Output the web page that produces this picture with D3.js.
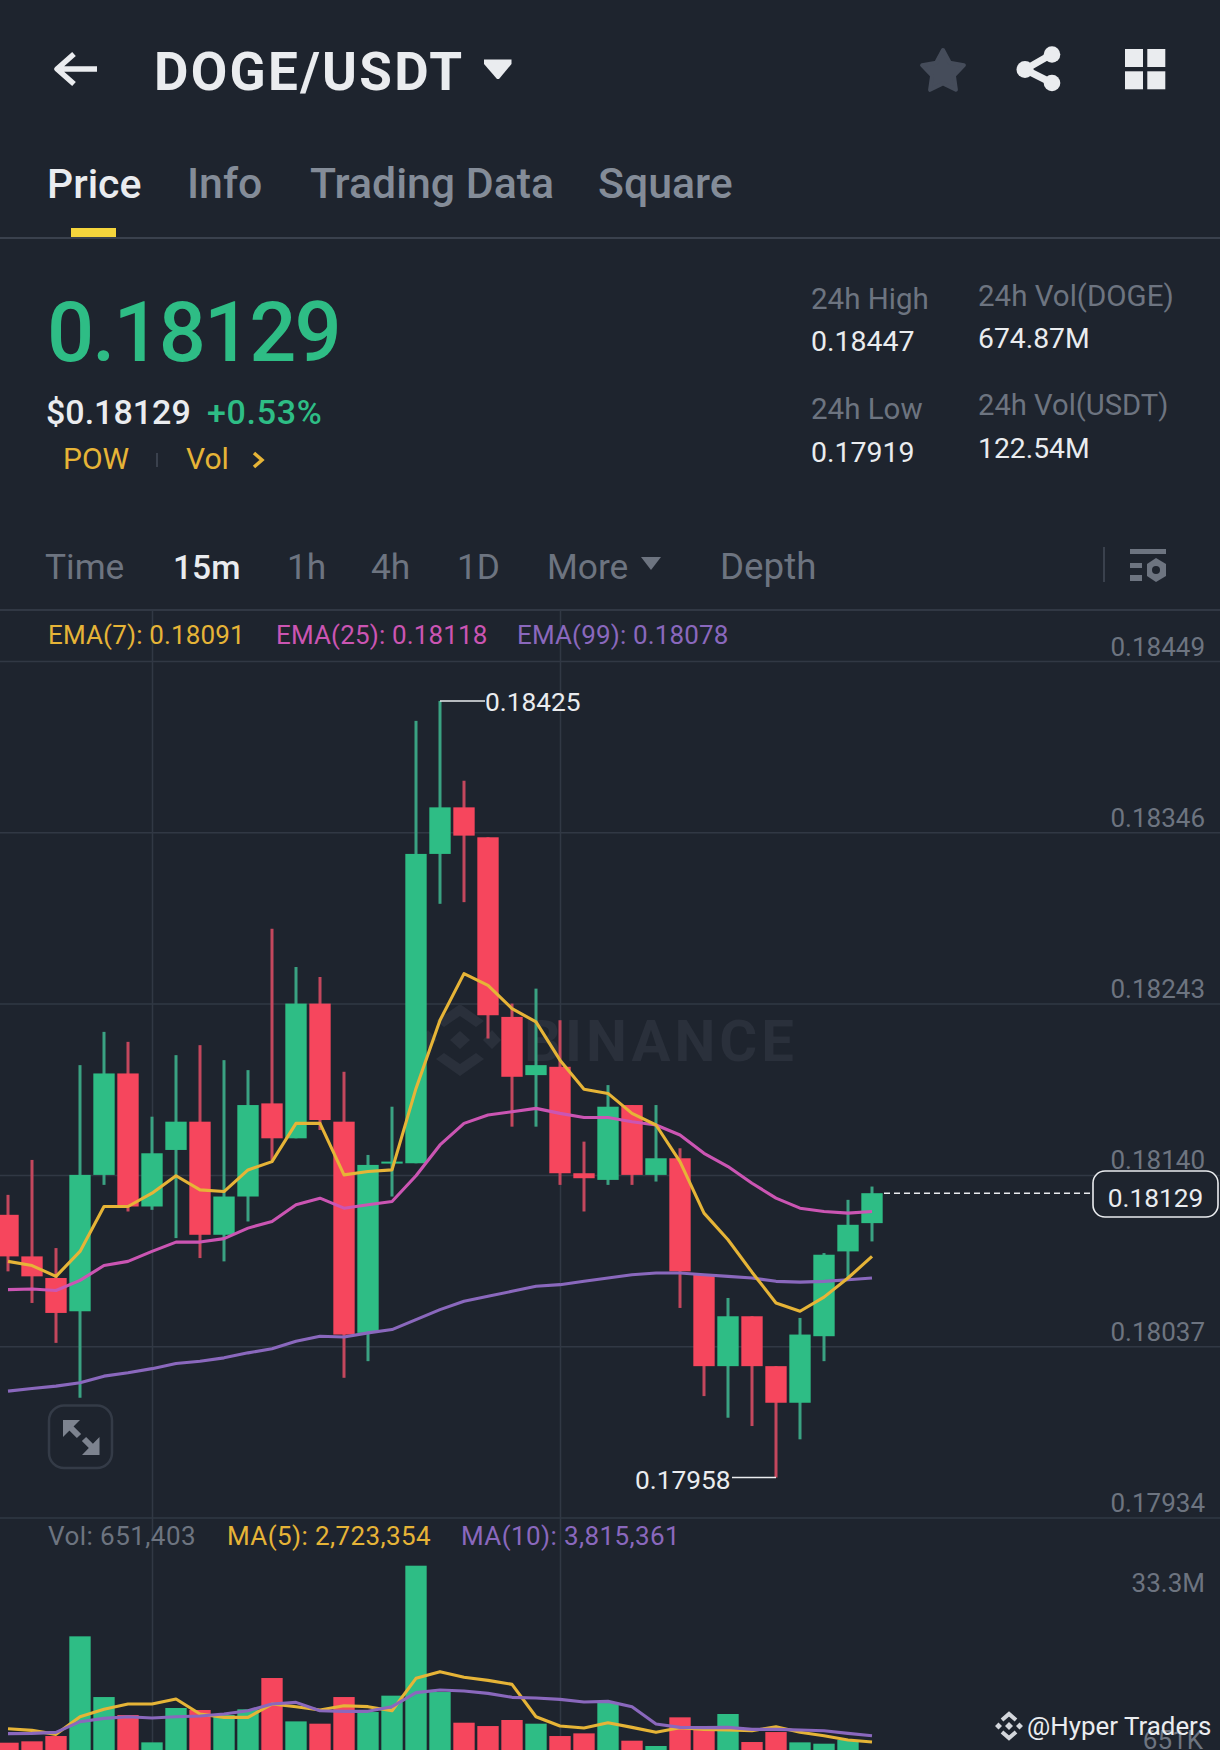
<!DOCTYPE html>
<html><head><meta charset="utf-8">
<script src="https://cdn.jsdelivr.net/npm/d3@7"></script>
<style>
html,body{margin:0;padding:0;background:#1e242e;}
svg{display:block;}
text{font-family:Roboto,"Noto Sans",sans-serif;}
</style></head><body><svg id="c" width="1220" height="1750"></svg>
<script>
const opens =[0.18116,0.18091,0.18078,0.18058,0.18140,0.18201,0.18121,0.18155,0.18172,0.18104,0.18127,0.18183,0.18162,0.18243,0.18172,0.18045,0.18147,0.18147,0.18333,0.18361,0.18343,0.18235,0.18200,0.18205,0.18141,0.18137,0.18182,0.18140,0.18150,0.18080,0.18025,0.18055,0.18025,0.18003,0.18043,0.18094,0.18111];
const closes=[0.18091,0.18079,0.18057,0.18140,0.18201,0.18121,0.18153,0.18172,0.18104,0.18127,0.18182,0.18162,0.18243,0.18173,0.18044,0.18146,0.18148,0.18333,0.18361,0.18344,0.18236,0.18199,0.18206,0.18141,0.18138,0.18181,0.18140,0.18150,0.18082,0.18025,0.18055,0.18025,0.18003,0.18044,0.18092,0.18110,0.18129];
const highs =[0.18128,0.18149,0.18096,0.18206,0.18226,0.18220,0.18175,0.18212,0.18218,0.18209,0.18203,0.18288,0.18265,0.18259,0.18202,0.18152,0.18181,0.18413,0.18425,0.18377,0.18343,0.18243,0.18252,0.18233,0.18160,0.18194,0.18182,0.18182,0.18156,0.18080,0.18066,0.18055,0.18025,0.18054,0.18093,0.18125,0.18133];
const lows  =[0.18082,0.18063,0.18039,0.18006,0.18134,0.18118,0.18119,0.18102,0.18090,0.18088,0.18112,0.18149,0.18162,0.18167,0.18018,0.18028,0.18127,0.18147,0.18303,0.18304,0.18222,0.18169,0.18169,0.18134,0.18118,0.18134,0.18134,0.18136,0.18060,0.18007,0.17994,0.17989,0.17958,0.17981,0.18028,0.18077,0.18100];
const ema7  =[0.18088,0.180855,0.18079,0.18094,0.18121,0.18121,0.18129,0.181395,0.18131,0.18130,0.18143,0.18148,0.18171,0.18171,0.18140,0.18142,0.18143,0.18192,0.18233,0.18261,0.18254,0.18240,0.18232,0.18209,0.181915,0.18189,0.18177,0.18170,0.18148,0.18117,0.18101,0.180815,0.18063,0.18058,0.180665,0.18078,0.18091];
const ema25 =[0.18071,0.180714,0.180705,0.180766,0.180855,0.18088,0.18094,0.180996,0.180996,0.181017,0.18108,0.18112,0.18122,0.18126,0.18120,0.18122,0.18124,0.181395,0.18158,0.18171,0.18176,0.18178,0.18180,0.18177,0.181745,0.181745,0.18172,0.18170,0.18164,0.18153,0.18145,0.18135,0.18126,0.18120,0.18118,0.18117,0.18118];
const ema99 =[0.18010,0.180116,0.18013,0.18015,0.18019,0.18021,0.180235,0.180266,0.18028,0.18030,0.18033,0.180355,0.18040,0.18043,0.180425,0.18045,0.18047,0.18053,0.18059,0.18064,0.18067,0.18070,0.18073,0.18074,0.18076,0.18078,0.18080,0.18081,0.18081,0.18080,0.18079,0.18078,0.18076,0.180755,0.18076,0.18077,0.18078];
const volumes=[2.60,2.84,3.76,21.05,10.52,7.40,2.66,8.62,8.27,7.40,8.39,13.82,6.30,5.90,10.52,7.92,10.76,33.30,11.39,6.07,5.49,6.54,5.90,3.76,4.22,9.54,2.95,2.03,7.00,4.92,7.58,2.72,4.45,2.66,2.43,3.07,0.651403];
const ma5   =[5.03,4.74,4.05,7.11,8.39,9.31,9.31,10.18,7.58,7.00,7.00,9.31,8.85,8.27,9.02,8.85,8.15,13.76,14.92,13.94,13.41,12.72,7.11,5.49,5.15,6.07,5.26,4.40,5.21,4.92,4.80,4.68,5.38,4.40,3.82,3.07,2.723354];
const ma10  =[4.17,4.22,4.40,6.25,6.82,7.11,6.88,7.11,7.23,7.58,8.15,9.31,9.60,8.15,8.04,8.04,8.85,11.28,11.74,11.56,11.16,10.47,10.35,10.12,9.66,9.77,8.85,5.84,5.26,5.21,5.26,4.92,4.92,4.80,4.68,4.22,3.815361];
const priceTicks=[0.18449,0.18346,0.18243,0.18140,0.18037,0.17934];
const tabs=["Price","Info","Trading Data","Square"];
const intervals=["Time","15m","1h","4h","1D","More","Depth"];
const COL={bg:"#1e242e",grid:"#313844",muted:"#6d7480",tab:"#848c98",white:"#eaecef",green:"#2ebd85",red:"#f6465d",gw:"#3aa282",rw:"#c4475d",yellow:"#e6b437",magenta:"#cb55b3",purple:"#8a68bd"};

const svg=d3.select("#c");
svg.append("rect").attr("width",1220).attr("height",1750).attr("fill",COL.bg);
const idx=d3.range(opens.length);
const x=d3.scaleBand().domain(idx).range([-4,884]).paddingInner(0.11).paddingOuter(0.055);
const cx=i=>x(i)+x.bandwidth()/2;
const y=d3.scaleLinear().domain([0.17934,0.18449]).range([1517.5,661]);
const yV=d3.scaleLinear().domain([0,33.3]).range([1757.7,1565.7]);
function T(s,px,py,size,fill,o={}){
  return svg.append("text").attr("x",px).attr("y",py).attr("font-size",size).attr("fill",fill)
   .attr("font-weight",o.w||400).attr("text-anchor",o.a||"start").attr("letter-spacing",o.ls||0).attr("font-family",o.f||null).text(s);
}
// ---- header
svg.append("path").attr("d","M97 69H57M74 54L57 69L74 84").attr("fill","none").attr("stroke",COL.white).attr("stroke-width",5.5).attr("stroke-linejoin","round");
T("DOGE/USDT",154,90,53,COL.white,{w:700,ls:2.3});
svg.append("path").attr("d","M484 59.5H511.5V64L499 79H497L484 64Z").attr("fill",COL.white);
svg.append("path").attr("d",d3.range(10).map(k=>{const r=k%2?11.5:22,a=-Math.PI/2+k*Math.PI/5;return (k?"L":"M")+(943+r*Math.cos(a)).toFixed(1)+" "+(72+r*Math.sin(a)).toFixed(1)}).join("")+"Z").attr("fill","#454c5a").attr("stroke","#454c5a").attr("stroke-width",4).attr("stroke-linejoin","round");
svg.append("path").attr("d","M1052 54L1025 69.5L1052 83").attr("fill","none").attr("stroke",COL.white).attr("stroke-width",7);
[[1052,54.5,8.3],[1025,69.5,8.5],[1052,83,8.3]].forEach(c=>svg.append("circle").attr("cx",c[0]).attr("cy",c[1]).attr("r",c[2]).attr("fill",COL.white));
[[1125,49],[1147.3,49],[1125,71.3],[1147.3,71.3]].forEach(c=>svg.append("rect").attr("x",c[0]).attr("y",c[1]).attr("width",18).attr("height",18).attr("fill",COL.white));
// tabs
const tabX=[47,187,310,598];
tabs.forEach((t,i)=>T(t,tabX[i],198,i?42.8:41,i?COL.tab:COL.white,{w:500}));
svg.append("rect").attr("x",71).attr("y",228).attr("width",45).attr("height",9).attr("fill","#f5d53c");
svg.append("line").attr("x1",0).attr("x2",1220).attr("y1",238).attr("y2",238).attr("stroke","#3a414d").attr("stroke-width",2);
// price block
T("0.18129",47,361,83,COL.green,{w:500,ls:-1.9});
T("$0.18129",46,424,34,COL.white,{w:500});
T("+0.53%",207,424,34,COL.green,{w:500,ls:0.7});
T("POW",63,469,30,COL.yellow);
svg.append("line").attr("x1",157).attr("x2",157).attr("y1",453).attr("y2",467).attr("stroke","#3a414d").attr("stroke-width",2);
T("Vol",186,469,30,COL.yellow);
svg.append("path").attr("d","M254 453L262 460L254 467").attr("fill","none").attr("stroke",COL.yellow).attr("stroke-width",3.5);
T("24h High",811,309,29.5,COL.muted);T("0.18447",811,351,28.5,COL.white);
T("24h Low",811,419,29.5,COL.muted);T("0.17919",811,462,28.5,COL.white);
T("24h Vol(DOGE)",978,306,29.5,COL.muted);T("674.87M",978,348,28.3,COL.white);
T("24h Vol(USDT)",978,415,29.2,COL.muted);T("122.54M",978,458,28.3,COL.white);
// intervals
const intX=[45,173,287,371,457,547,720];
intervals.forEach((t,i)=>T(t,intX[i],579,i===1?33.6:(i===6?36.7:35.3),i===1?COL.white:COL.muted,{w:i===1?500:400}));
svg.append("path").attr("d","M641 557H661L651 570Z").attr("fill",COL.muted);
svg.append("line").attr("x1",1104).attr("x2",1104).attr("y1",547).attr("y2",582).attr("stroke","#3a414d").attr("stroke-width",2);
svg.append("path").attr("d","M1130 549H1166V554H1130ZM1130 563H1142V568H1130ZM1130 575H1142V581H1130Z").attr("fill",COL.muted);
svg.append("path").attr("d","M1156 558L1166 564V576L1156 582L1147 576V564Z").attr("fill",COL.muted);
svg.append("circle").attr("cx",1156).attr("cy",570).attr("r",4).attr("fill",COL.bg);
svg.append("line").attr("x1",0).attr("x2",1220).attr("y1",610).attr("y2",610).attr("stroke",COL.grid).attr("stroke-width",2);
// vertical grid
[152.5,560.5].forEach(v=>svg.append("line").attr("x1",v).attr("x2",v).attr("y1",610).attr("y2",1750).attr("stroke",COL.grid).attr("stroke-width",1.5));
// price axis
const gAxis=svg.append("g").attr("transform","translate(1220,0)").call(d3.axisLeft(y).tickValues(priceTicks).tickSize(1220).tickFormat(d3.format(".5f")));
gAxis.select(".domain").remove();
gAxis.selectAll("line").attr("stroke",COL.grid).attr("stroke-width",1.5);
gAxis.selectAll("text").attr("x",-15).attr("dy",0).attr("y",-6).attr("text-anchor","end").attr("font-size",26).attr("fill",COL.muted).attr("font-family","Roboto,sans-serif");
// legends
T("EMA(7): 0.18091",48,644,26,COL.yellow,{ls:0.15});
T("EMA(25): 0.18118",276,644,26,COL.magenta,{ls:0.15});
T("EMA(99): 0.18078",517,644,26,COL.purple,{ls:0.15});
T("Vol: 651,403",48,1545,26,COL.muted,{ls:0.45});
T("MA(5): 2,723,354",227,1545,26,COL.yellow,{ls:0.4});
T("MA(10): 3,815,361",461,1545,26,COL.purple,{ls:0.4});
T("33.3M",1205,1592,26,COL.muted,{a:"end"});
// watermark
const wm=svg.append("g").attr("fill","#2a303b");
wm.append("path").attr("d","M460 1004L484 1021L476 1027L460 1016L444 1027L436 1021ZM460 1031L470 1040L460 1049L450 1040ZM428 1030L437 1040L428 1049L419 1040ZM492 1030L501 1040L492 1049L483 1040ZM436 1059L444 1053L460 1064L476 1053L484 1059L460 1076Z");
wm.append("text").attr("x",524).attr("y",1061).attr("font-size",58).attr("font-weight",700).attr("letter-spacing",4).text("BINANCE");
// full-screen button
svg.append("rect").attr("x",49).attr("y",1405.5).attr("width",63).attr("height",62.5).attr("rx",15).attr("fill",COL.bg).attr("stroke","#343b47").attr("stroke-width",2.5);
svg.append("path").attr("d","M63 1420H80L63 1437ZM99.5 1455H82L99.5 1437Z").attr("fill","#7d838f");
svg.append("path").attr("d","M68 1425L79 1436M84 1439L95 1450").attr("stroke","#7d838f").attr("stroke-width",6);
// candles
const up=i=>closes[i]>=opens[i];
const candles=svg.append("g");
candles.selectAll(".w").data(idx).join("rect").attr("class","w")
  .attr("x",i=>cx(i)-1.5).attr("width",3).attr("y",i=>y(highs[i])).attr("height",i=>y(lows[i])-y(highs[i]))
  .attr("fill",i=>up(i)?COL.gw:COL.rw);
candles.selectAll(".b").data(idx).join("rect").attr("class","b")
  .attr("x",i=>x(i)).attr("width",x.bandwidth())
  .attr("y",i=>y(Math.max(opens[i],closes[i]))).attr("height",i=>Math.max(2,Math.abs(y(opens[i])-y(closes[i]))))
  .attr("fill",i=>up(i)?COL.green:COL.red);
const line=(yy,arr)=>d3.line().x(i=>cx(i)).y(i=>yy(arr[i]))(idx);
[[ema99,COL.purple],[ema25,COL.magenta],[ema7,COL.yellow]].forEach(s=>svg.append("path").attr("d",line(y,s[0])).attr("fill","none").attr("stroke",s[1]).attr("stroke-width",3.1).attr("stroke-linejoin","round"));
// high/low annotations
svg.append("path").attr("d",`M${cx(18)} ${y(0.18425)}H485`).attr("stroke",COL.white).attr("stroke-width",1.5).attr("fill","none");
T("0.18425",485,711,26.3,COL.white);
svg.append("path").attr("d",`M${cx(32)} ${y(0.17958)}H732`).attr("stroke",COL.white).attr("stroke-width",1.5).attr("fill","none");
T("0.17958",635,1489,26.3,COL.white);
// current price
svg.append("line").attr("x1",884).attr("x2",1094).attr("y1",y(0.18129)).attr("y2",y(0.18129)).attr("stroke",COL.white).attr("stroke-width",1.6).attr("stroke-dasharray","6 4");
svg.append("rect").attr("x",1093).attr("y",1171).attr("width",125).attr("height",46).attr("rx",12).attr("fill",COL.bg).attr("stroke",COL.white).attr("stroke-width",1.6);
T("0.18129",1155.5,1207,26.3,COL.white,{a:"middle"});
// volume
svg.append("g").selectAll("rect").data(idx).join("rect")
  .attr("x",i=>x(i)).attr("width",x.bandwidth())
  .attr("y",i=>yV(volumes[i])).attr("height",i=>yV(0)-yV(volumes[i]))
  .attr("fill",i=>up(i)?COL.green:COL.red);
[[ma5,COL.yellow],[ma10,COL.purple]].forEach(s=>svg.append("path").attr("d",line(yV,s[0])).attr("fill","none").attr("stroke",s[1]).attr("stroke-width",3.1).attr("stroke-linejoin","round"));
T("651K",1203,1749,26,COL.muted,{a:"end"});
// credit
svg.append("path").attr("fill","none").attr("stroke","#d3d6db").attr("stroke-width",4).attr("d","M1002 1720L1009 1714L1016 1720M1002 1732L1009 1738L1016 1732");
svg.append("path").attr("fill","#d3d6db").attr("d","M1009 1722L1013 1726L1009 1730L1005 1726ZM998.5 1722.5L1002 1726L998.5 1729.5L995 1726ZM1019.5 1722.5L1023 1726L1019.5 1729.5L1016 1726Z");
T("@Hyper Traders",1027,1735,25.9,COL.white,{f:"Noto Sans"});
</script></body></html>
